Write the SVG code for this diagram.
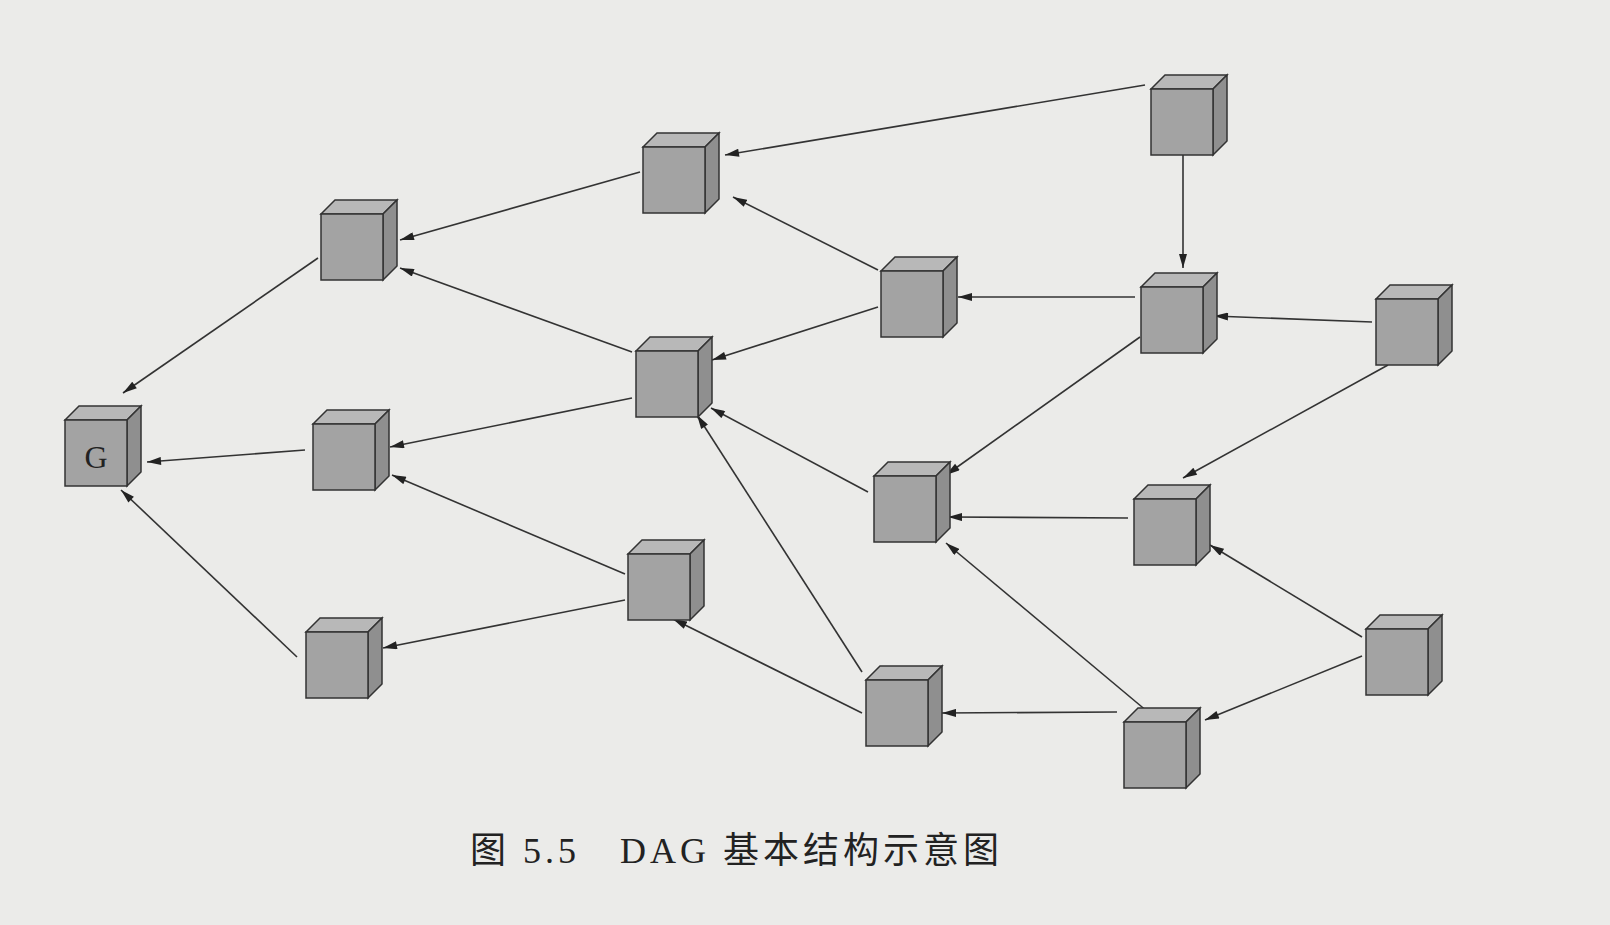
<svg xmlns="http://www.w3.org/2000/svg" width="1610" height="925" viewBox="0 0 1610 925">
<style>
.e{stroke:#333;stroke-width:1.6;fill:none;marker-end:url(#ah)}
.f{fill:#a3a3a3;stroke:#333;stroke-width:1.5}
.t{fill:#b8b8b8;stroke:#333;stroke-width:1.5}
.s{fill:#8f8f8f;stroke:#333;stroke-width:1.5}
</style>
<defs>
<marker id="ah" viewBox="0 0 14 8" refX="14" refY="4" markerWidth="15" markerHeight="8" markerUnits="userSpaceOnUse" orient="auto"><path d="M0,0L14,4L0,8z" fill="#222"/></marker>
<g id="cube">
<polygon class="t" points="-34,-26 -20,-40 42,-40 28,-26"/>
<polygon class="s" points="28,-26 42,-40 42,26 28,40"/>
<rect class="f" x="-34" y="-26" width="62" height="66"/>
</g>
</defs>
<rect width="1610" height="925" fill="#ebebe9"/>
<g id="connectors">
<line class="e" x1="1145" y1="85" x2="725" y2="155"/>
<line class="e" x1="1183" y1="150" x2="1183" y2="268"/>
<line class="e" x1="640" y1="172" x2="400" y2="240"/>
<line class="e" x1="878" y1="270" x2="733" y2="197"/>
<line class="e" x1="1135" y1="297" x2="958" y2="297"/>
<line class="e" x1="1372" y1="322" x2="1214" y2="316"/>
<line class="e" x1="878" y1="307" x2="712" y2="360"/>
<line class="e" x1="632" y1="352" x2="400" y2="268"/>
<line class="e" x1="318" y1="258" x2="123" y2="393"/>
<line class="e" x1="1140" y1="337" x2="946" y2="475"/>
<line class="e" x1="1388" y1="365" x2="1183" y2="478"/>
<line class="e" x1="1128" y1="518" x2="948" y2="517"/>
<line class="e" x1="632" y1="398" x2="390" y2="447"/>
<line class="e" x1="305" y1="450" x2="147" y2="462"/>
<line class="e" x1="868" y1="492" x2="711" y2="408"/>
<line class="e" x1="862" y1="672" x2="697" y2="415"/>
<line class="e" x1="625" y1="574" x2="392" y2="475"/>
<line class="e" x1="1362" y1="637" x2="1210" y2="545"/>
<line class="e" x1="1362" y1="656" x2="1205" y2="720"/>
<line class="e" x1="1148" y1="712" x2="946" y2="543"/>
<line class="e" x1="1117" y1="712" x2="942" y2="713"/>
<line class="e" x1="862" y1="713" x2="673" y2="619"/>
<line class="e" x1="625" y1="600" x2="383" y2="648"/>
<line class="e" x1="297" y1="657" x2="121" y2="490"/>
</g>
<g id="nA"><use href="#cube" x="1185" y="115"/></g>
<g id="nB"><use href="#cube" x="677" y="173"/></g>
<g id="nC"><use href="#cube" x="355" y="240"/></g>
<g id="nD"><use href="#cube" x="915" y="297"/></g>
<g id="nE"><use href="#cube" x="1175" y="313"/></g>
<g id="nF"><use href="#cube" x="1410" y="325"/></g>
<g id="nH"><use href="#cube" x="670" y="377"/></g>
<g id="nG"><use href="#cube" x="99" y="446"/><text x="96" y="468" font-family="Liberation Serif,serif" font-size="32" text-anchor="middle" fill="#222">G</text></g>
<g id="nI"><use href="#cube" x="347" y="450"/></g>
<g id="nJ"><use href="#cube" x="908" y="502"/></g>
<g id="nK"><use href="#cube" x="1168" y="525"/></g>
<g id="nL"><use href="#cube" x="662" y="580"/></g>
<g id="nM"><use href="#cube" x="340" y="658"/></g>
<g id="nN"><use href="#cube" x="900" y="706"/></g>
<g id="nO"><use href="#cube" x="1400" y="655"/></g>
<g id="nP"><use href="#cube" x="1158" y="748"/></g>
<text x="470" y="863" font-family="Liberation Serif,Noto Sans CJK SC,serif" font-size="36" letter-spacing="4" fill="#222">图 5.5　DAG 基本结构示意图</text>
</svg>
